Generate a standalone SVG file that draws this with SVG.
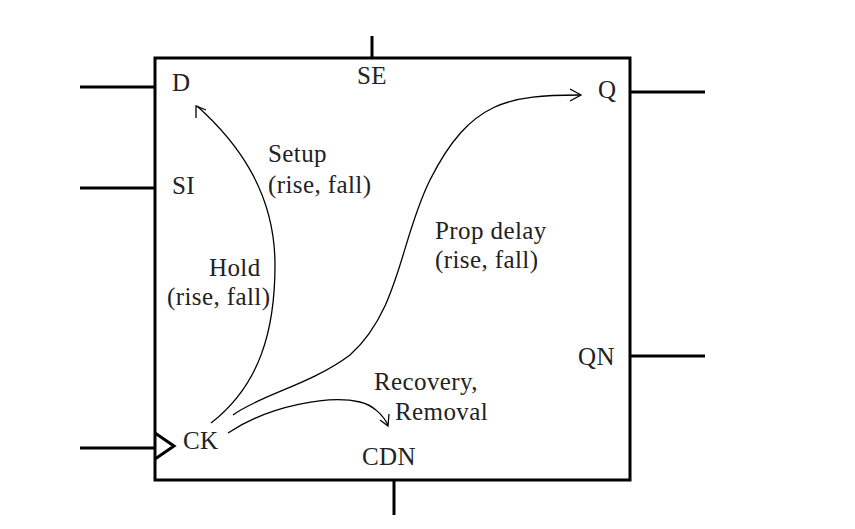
<svg xmlns="http://www.w3.org/2000/svg" width="855" height="529" viewBox="0 0 855 529">
<style>
text{font-family:"Liberation Serif",serif;font-size:25px;letter-spacing:0.4px;fill:#222}
.p{stroke:#000;stroke-width:3;fill:none}
.c{stroke:#000;stroke-width:1.3;fill:none}
</style>
<rect width="855" height="529" fill="#fff"/>
<g id="box">
<rect x="155" y="58" width="475" height="422" class="p"/>
<polyline points="155,433 174,446 155,459" class="p" stroke-width="2"/>
</g>
<g id="pins">
<line x1="80" y1="87" x2="155" y2="87" class="p"/>
<line x1="80" y1="188" x2="155" y2="188" class="p"/>
<line x1="80" y1="448" x2="155" y2="448" class="p"/>
<line x1="372" y1="36" x2="372" y2="58" class="p"/>
<line x1="394" y1="480" x2="394" y2="515" class="p"/>
<line x1="630" y1="92" x2="705" y2="92" class="p"/>
<line x1="630" y1="356" x2="705" y2="356" class="p"/>
</g>
<g id="labels">
<text x="172" y="91">D</text>
<text x="357" y="84">SE</text>
<text x="172" y="194">SI</text>
<text x="183" y="449">CK</text>
<text x="362" y="465">CDN</text>
<text x="598" y="98">Q</text>
<text x="578" y="365">QN</text>
<text x="268" y="162">Setup</text>
<text x="268" y="193">(rise, fall)</text>
<text x="209" y="276">Hold</text>
<text x="167" y="305">(rise, fall)</text>
<text x="435" y="239">Prop delay</text>
<text x="435" y="268">(rise, fall)</text>
<text x="374" y="390">Recovery,</text>
<text x="395" y="420">Removal</text>
</g>
<g id="connectors">
<path class="c" d="M211,423 C260,385 275,330 275,265 C275,190 235,140 197,106"/>
<polyline class="c" points="196,118 196,106 206,110"/>
<path class="c" d="M233,415 C260,395 310,385 350,355 C400,310 400,240 430,180 C470,100 510,95 580,95"/>
<polyline class="c" points="570,89 581,95 570,101"/>
<path class="c" d="M228,433 C270,405 330,395 360,402 C373,405 383,415 388,425"/>
<polyline class="c" points="380,420 388,426 389,414"/>
</g>
</svg>
